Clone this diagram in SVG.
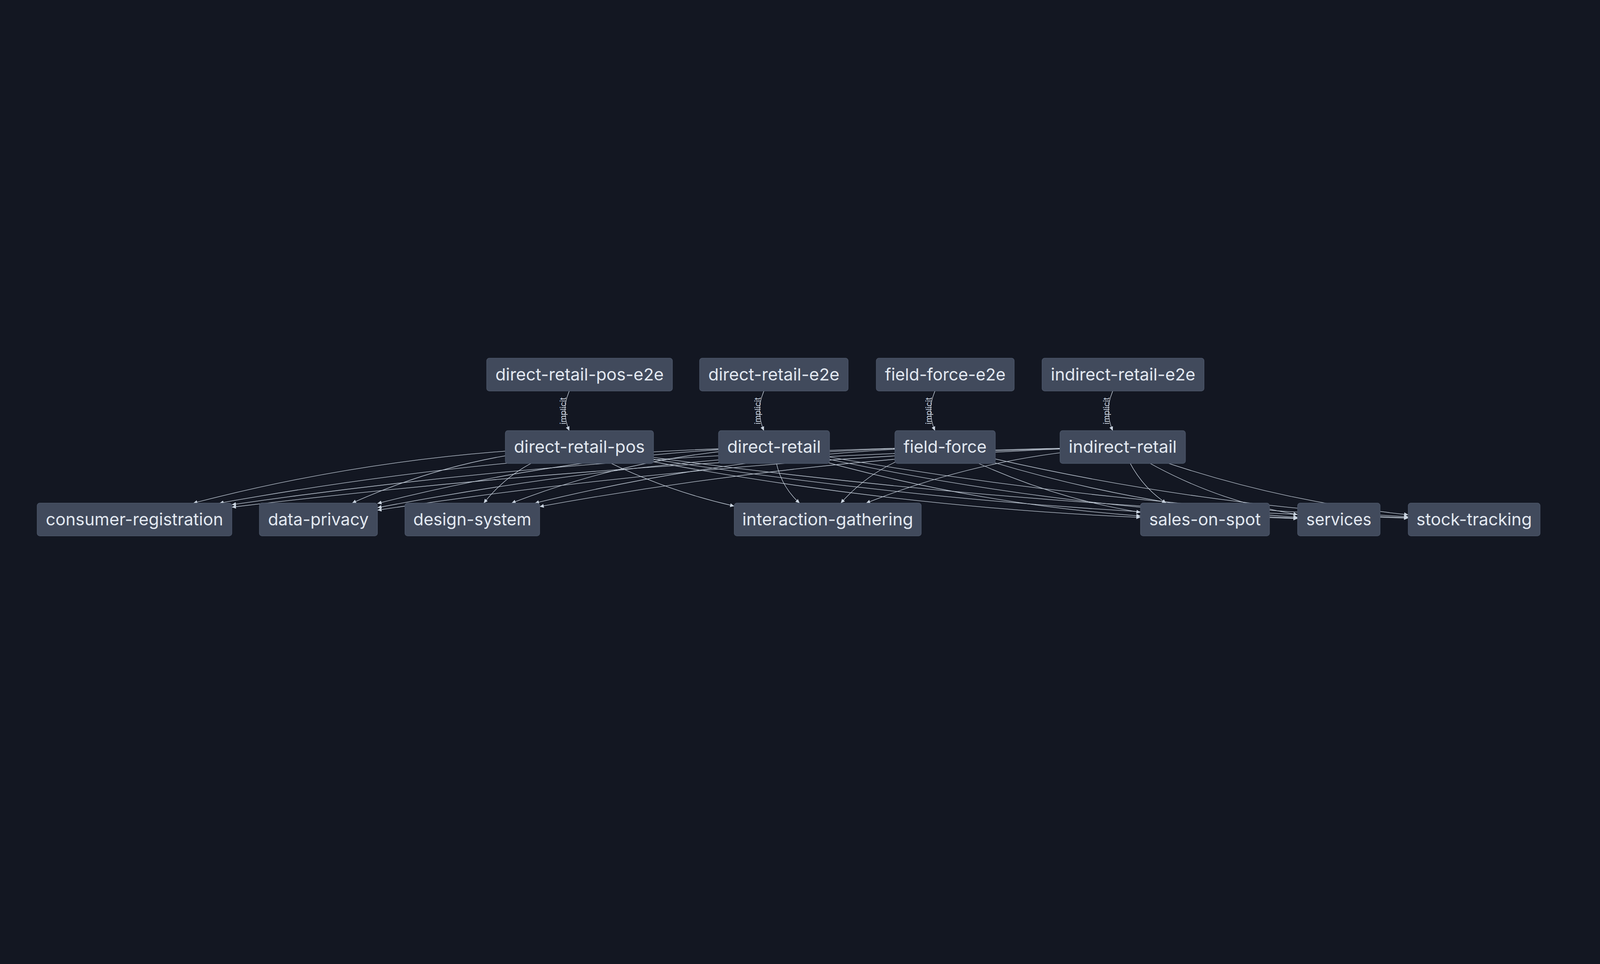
<svg xmlns="http://www.w3.org/2000/svg" width="4990" height="2468" viewBox="0 0 4990 2468" style="width:100%;height:100%;background:#131722">
<defs>
<style>
.node rect{fill:#414a5c;stroke:#4a5467;stroke-width:2}
.node text{font-family:Inter,"Liberation Sans",sans-serif;font-size:52px;fill:#e2e8f0;text-anchor:middle}
.edge{fill:none;stroke:#cbd5e1;stroke-width:1.6;marker-end:url(#arr)}
.elabel{font-family:Inter,"Liberation Sans",sans-serif;font-size:25px;fill:#cbd5e1;text-anchor:middle}
</style>
<marker id="arr" viewBox="0 0 13 12" refX="13" refY="6" markerWidth="13" markerHeight="12" markerUnits="userSpaceOnUse" orient="auto">
<path d="M0,0 L13,6 L0,12 z" fill="#cbd5e1"/>
</marker>
</defs>
<rect x="0" y="0" width="4990" height="2468" fill="#131722"/>
<g id="connectors">
<path class="edge" d="M1807,899 Q1737.3,986.5 1775.5,1074"/>
<path class="edge" d="M2414,899 Q2344.3,986.5 2382.5,1074"/>
<path class="edge" d="M2947.5,899 Q2877.8,986.5 2916,1074"/>
<path class="edge" d="M3502,899 Q3432.3,986.5 3470.5,1074"/>
<text class="elabel" transform="translate(1765,1012) rotate(-90)">implicit</text>
<text class="elabel" transform="translate(2372,1012) rotate(-90)">implicit</text>
<text class="elabel" transform="translate(2905.5,1012) rotate(-90)">implicit</text>
<text class="elabel" transform="translate(3460,1012) rotate(-90)">implicit</text>
<path class="edge" d="M1807,1125 Q1193.9,1146 602.5,1300"/>
<path class="edge" d="M1807,1125 Q1434.4,1147.7 1097.8,1300"/>
<path class="edge" d="M1807,1125 Q1621,1157.9 1508.7,1300"/>
<path class="edge" d="M1807,1125 Q2038.2,1252.3 2290,1309.2"/>
<path class="edge" d="M1807,1125 Q2673.7,1306.8 3557,1344.3"/>
<path class="edge" d="M1807,1125 Q2919.3,1316.7 4047,1348"/>
<path class="edge" d="M1807,1125 Q3093.3,1312.8 4392,1346.6"/>
<path class="edge" d="M2414,1125 Q1541.5,1145.4 684.2,1300"/>
<path class="edge" d="M2414,1125 Q1784.8,1145.9 1177,1301"/>
<path class="edge" d="M2414,1125 Q1988.9,1147.1 1595.2,1300"/>
<path class="edge" d="M2414,1125 Q2421.7,1236.5 2494.1,1300"/>
<path class="edge" d="M2414,1125 Q2974.6,1297.1 3557,1340.1"/>
<path class="edge" d="M2414,1125 Q3220.7,1312.7 4047,1346.7"/>
<path class="edge" d="M2414,1125 Q3395.4,1308.6 4392,1345.1"/>
<path class="edge" d="M2947.5,1125 Q1829,1145.6 723,1304.7"/>
<path class="edge" d="M2947.5,1125 Q2053.7,1146.4 1177,1314.1"/>
<path class="edge" d="M2947.5,1125 Q2297.4,1145.8 1667.9,1300"/>
<path class="edge" d="M2947.5,1125 Q2750,1156.2 2622.1,1300"/>
<path class="edge" d="M2947.5,1125 Q3238.2,1277.3 3557,1328.8"/>
<path class="edge" d="M2947.5,1125 Q3484.1,1305.9 4047,1344.1"/>
<path class="edge" d="M2947.5,1125 Q3660.3,1302.3 4392,1342.5"/>
<path class="edge" d="M3501.5,1125 Q2107,1145.9 723,1312.6"/>
<path class="edge" d="M3501.5,1125 Q2332.4,1146.7 1177,1322"/>
<path class="edge" d="M3501.5,1125 Q2584.2,1146.1 1683,1310.7"/>
<path class="edge" d="M3501.5,1125 Q3085.1,1147.1 2701,1300"/>
<path class="edge" d="M3501.5,1125 Q3545.3,1239.8 3637.1,1300"/>
<path class="edge" d="M3501.5,1125 Q3754.9,1287.9 4047,1335.7"/>
<path class="edge" d="M3501.5,1125 Q3934.6,1289.4 4392,1336"/>
</g>
<g id="node-direct-retail-pos-e2e" class="node"><rect x="1518" y="848" width="579" height="102" rx="8"/><text x="1807.5" y="917" textLength="525" lengthAdjust="spacingAndGlyphs">direct-retail-pos-e2e</text></g>
<g id="node-direct-retail-e2e" class="node"><rect x="2182" y="848" width="463" height="102" rx="8"/><text x="2413.5" y="917" textLength="409" lengthAdjust="spacingAndGlyphs">direct-retail-e2e</text></g>
<g id="node-field-force-e2e" class="node"><rect x="2733" y="848" width="430" height="102" rx="8"/><text x="2948" y="917" textLength="376" lengthAdjust="spacingAndGlyphs">field-force-e2e</text></g>
<g id="node-indirect-retail-e2e" class="node"><rect x="3250" y="848" width="505" height="102" rx="8"/><text x="3502.5" y="917" textLength="451" lengthAdjust="spacingAndGlyphs">indirect-retail-e2e</text></g>
<g id="node-direct-retail-pos" class="node"><rect x="1576" y="1074" width="462" height="102" rx="8"/><text x="1807" y="1143" textLength="408" lengthAdjust="spacingAndGlyphs">direct-retail-pos</text></g>
<g id="node-direct-retail" class="node"><rect x="2241" y="1074" width="346" height="102" rx="8"/><text x="2414" y="1143" textLength="292" lengthAdjust="spacingAndGlyphs">direct-retail</text></g>
<g id="node-field-force" class="node"><rect x="2791" y="1074" width="313" height="102" rx="8"/><text x="2947.5" y="1143" textLength="259" lengthAdjust="spacingAndGlyphs">field-force</text></g>
<g id="node-indirect-retail" class="node"><rect x="3306" y="1074" width="391" height="102" rx="8"/><text x="3501.5" y="1143" textLength="337" lengthAdjust="spacingAndGlyphs">indirect-retail</text></g>
<g id="node-consumer-registration" class="node"><rect x="116" y="1300" width="607" height="102" rx="8"/><text x="419.5" y="1369" textLength="553" lengthAdjust="spacingAndGlyphs">consumer-registration</text></g>
<g id="node-data-privacy" class="node"><rect x="809" y="1300" width="368" height="102" rx="8"/><text x="993" y="1369" textLength="314" lengthAdjust="spacingAndGlyphs">data-privacy</text></g>
<g id="node-design-system" class="node"><rect x="1263" y="1300" width="420" height="102" rx="8"/><text x="1473" y="1369" textLength="368" lengthAdjust="spacingAndGlyphs">design-system</text></g>
<g id="node-interaction-gathering" class="node"><rect x="2290" y="1300" width="583" height="102" rx="8"/><text x="2581.5" y="1369" textLength="533" lengthAdjust="spacingAndGlyphs">interaction-gathering</text></g>
<g id="node-sales-on-spot" class="node"><rect x="3557" y="1300" width="402" height="102" rx="8"/><text x="3758" y="1369" textLength="348" lengthAdjust="spacingAndGlyphs">sales-on-spot</text></g>
<g id="node-services" class="node"><rect x="4047" y="1300" width="257" height="102" rx="8"/><text x="4175.5" y="1369" textLength="203" lengthAdjust="spacingAndGlyphs">services</text></g>
<g id="node-stock-tracking" class="node"><rect x="4392" y="1300" width="411" height="102" rx="8"/><text x="4597.5" y="1369" textLength="360" lengthAdjust="spacingAndGlyphs">stock-tracking</text></g>
</svg>
